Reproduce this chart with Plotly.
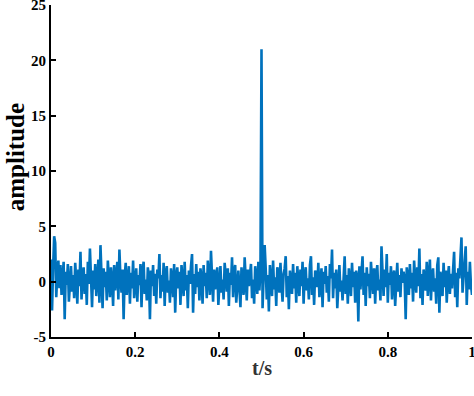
import plotly.graph_objects as go

# signal amplitude samples, evenly spaced over 0..1 s
amp_a = [
    2.0, -2.6, 1.2, 4.1, 3.5, -1.4, 0.8, 1.9, -0.6, 1.5, -1.2, 0.4, 1.8, -3.4, 0.9, -0.3, 1.6, -1.8, 0.2, 1.4,
    -0.9, 0.6, -1.5, 1.7, 0.1, -2.0, 1.1, -0.4, 2.7, -1.6, 0.5, 1.3, -1.1, 0.7, -2.1, 1.8, -0.2, 3.0, 0.4, -2.3,
    1.0, -0.7, 1.6, -1.3, 0.3, 2.0, -1.9, 3.3, 0.6, -2.4, 1.2, -0.5, 0.9, -1.7, 1.9, -0.1, -1.4, 1.3, 0.2, -2.2,
    1.5, -0.8, 0.7, 1.8, -1.6, 2.9, 0.3, -1.0, 1.1, -3.4, 0.5, 1.7, -1.2, 0.0, 1.4, -2.0, 0.8, -0.6, 1.9, -1.5,
    0.4, 1.2, -1.8, 0.6, -0.3, 1.6, -2.3, 0.9, 1.8, -1.1, 0.2, -1.7, 1.3, 0.5, -3.4, 1.0, -0.4, 1.5, -1.3, 0.7,
    -2.0, 1.1, 0.3, 2.5, -1.5, 0.6, -0.9, 1.7, -2.2, 0.8, 1.4, -1.0, 0.1, -1.9, 1.2, 0.4, -1.4, 1.6, -2.8, 0.5,
    1.3, -0.6, 0.9, -2.1, 1.5, 0.2, -1.3, 1.8, -0.8, 0.6, -2.4, 1.0, -0.2, 1.4, 2.5, -2.8, 0.7, -1.1, 1.6, -0.5,
    0.9, -1.7, 1.2, 0.3, -2.0, 1.5, -0.4, 0.8, -1.5, 1.9, 0.1, -1.2, 2.8, 0.4, -1.8, 1.1, -0.7, 0.5, 1.3, -2.1,
    0.6, 1.4, -1.0, 0.2, -1.6, 1.7, 0.5, -0.9, 1.2, -2.2, 0.8, -0.3, 2.2, -1.4, 0.9, 1.5, -1.9, 0.3, 1.0, -0.6,
    -2.3, 1.3, 0.1, -1.2, 2.2, 0.7, -1.7, 1.1, -0.4, 0.6, 1.6, -1.5, 0.2, -2.0, 1.4, 0.5, -1.1, 1.8, -0.8, 0.9,
]
amp_spike = [21.0]
amp_b = [
    -2.4, 0.8, 3.3, 1.2, -1.6, 0.6, -2.7, 1.5, 0.3, -1.3, 1.9, -0.7, 0.4, -2.2, 1.3, 0.9, -1.0, 1.7, -0.3, -1.8,
    0.7, 1.2, 2.3, -1.4, 0.5, -2.5, 1.0, 0.2, -1.1, 1.6, -0.6, 0.8, -1.9, 1.4, 0.0, -1.3, 1.1, -0.4, 1.8, -2.0,
    0.6, 1.3, -0.8, 0.3, -1.6, 1.5, 2.3, -1.2, 0.4, -2.1, 1.0, 0.7, -0.5, 1.7, -1.4, 0.2, 1.2, -2.3, 0.9, -0.2,
    1.4, -1.0, 0.5, -1.8, 1.6, 0.3, 2.9, -1.5, 0.8, -0.6, 1.1, -2.4, 0.4, 1.5, -0.9, 0.1, -1.7, 1.3, 2.3, -1.1,
    0.6, -2.0, 1.2, 0.2, -1.3, 1.7, -0.5, 0.9, -1.9, 1.0, 0.4, -3.6, 1.4, -0.7, 0.5, 2.3, -1.2, 0.8, -2.2, 1.3,
    -0.4, 0.7, -1.5, 1.8, 0.3, -1.1, 1.2, -2.0, 0.6, 1.5, -0.8, 0.2, -1.7, 3.2, 0.9, -1.3, 1.1, -0.5, 2.5, -1.9,
    0.8, -0.3, 1.4, -1.6, 0.5, 1.0, -2.2, 0.3, 1.7, -0.9, 0.6, -1.4, 1.2, -0.1, 0.9, 0.2, -3.4, 1.3, 0.4, -1.2,
    1.6, -0.6, 0.8, -1.8, 1.9, 0.2, -1.0, 1.3, -0.4, 3.0, -1.5, 0.7, -2.1, 1.1, 0.4, -0.8, 1.8, -1.3, 0.5, 2.0,
    -1.7, 0.6, 1.2, -0.9, 0.3, -2.0, 1.5, 2.2, -2.8, 0.9, 0.1, -1.3, 1.7, -0.5, 1.0, -1.9, 0.4, 1.4, -1.1, 0.7,
    -0.6, 1.6, 2.7, -1.4, 0.8, -2.3, 1.2, 0.3, 1.9, 4.0, -1.0, 0.6, 1.5, 3.2, -2.1, 0.9, -0.7, 1.8, -0.3, -1.2,
]
amplitude = amp_a + amp_spike + amp_b
n = len(amplitude)
t = [i / (n - 1) for i in range(n)]

x_ticks = [0, 0.2, 0.4, 0.6, 0.8, 1]
x_labels = ["0", "0.2", "0.4", "0.6", "0.8", "1"]
y_ticks = [-5, 0, 5, 10, 15, 20, 25]
y_labels = ["-5", "0", "5", "10", "15", "20", "25"]

serif = "Liberation Serif, Times New Roman, serif"

fig = go.Figure()
fig.add_trace(go.Scatter(x=t, y=amplitude, mode="lines",
                         line=dict(color="#0072BD", width=2.6), showlegend=False))

fig.update_layout(
    width=474, height=396,
    margin=dict(l=51, r=2, t=5, b=59, autoexpand=False),
    plot_bgcolor="white", paper_bgcolor="white",
    xaxis=dict(range=[0, 1], tickvals=x_ticks, ticktext=x_labels,
               showgrid=False, zeroline=False, showline=True, linecolor="black", linewidth=2,
               ticks="inside", ticklen=5, tickwidth=2, tickcolor="black",
               ticklabeloverflow="allow", automargin=False,
               tickfont=dict(family=serif, size=15, color="black", weight="bold")),
    yaxis=dict(range=[-5, 25], tickvals=y_ticks, ticktext=y_labels,
               showgrid=False, zeroline=False, showline=True, linecolor="black", linewidth=2,
               ticks="inside", ticklen=5, tickwidth=2, tickcolor="black",
               ticklabeloverflow="allow", automargin=False,
               tickfont=dict(family=serif, size=15, color="black", weight="bold")),
    annotations=[
        dict(text="amplitude", xref="paper", yref="paper", x=-0.085, y=0.542,
             xanchor="center", yanchor="middle", textangle=-90, showarrow=False,
             font=dict(family=serif, size=25, color="black", weight="bold")),
        dict(text="t/s", xref="paper", yref="paper", x=0.5, y=-0.093,
             xanchor="center", yanchor="middle", showarrow=False,
             font=dict(family=serif, size=20, color="#333333", weight="bold")),
    ],
)

fig.write_html("out.html")
